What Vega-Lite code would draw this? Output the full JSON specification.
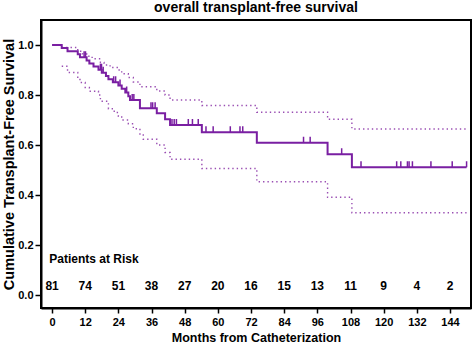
{
  "$schema": "https://vega.github.io/schema/vega-lite/v6.json",
  "width": 430,
  "height": 288,
  "autosize": "none",
  "padding": {"left": 41, "top": 20, "right": 3, "bottom": 37},
  "background": "white",
  "config": {
    "view": {"stroke": "black", "strokeWidth": 2},
    "font": "Liberation Sans",
    "axisY": {
      "values": [0, 0.2, 0.4, 0.6, 0.8, 1.0], "format": ".1f",
      "labelOverlap": false,
      "grid": false, "domainColor": "black", "domainWidth": 2, "tickColor": "black", "tickWidth": 1.5, "tickSize": 6,
      "labelFont": "Liberation Sans", "labelFontWeight": "bold", "labelFontSize": 11, "labelColor": "black", "labelPadding": 2,
      "titleFont": "Liberation Sans", "titleFontWeight": "bold", "titleFontSize": 14.5, "titleColor": "black", "titlePadding": 1
    }
  },
  "title": {
    "text": "overall transplant-free survival",
    "fontSize": 14,
    "fontWeight": "bold",
    "font": "Liberation Sans",
    "color": "black",
    "anchor": "middle",
    "offset": 5
  },
  "datasets": {
    "km": [
      {"t": 0, "s": 1.0}, {"t": 3.5, "s": 0.988}, {"t": 5.6, "s": 0.975}, {"t": 9.3, "s": 0.963},
      {"t": 10.1, "s": 0.951}, {"t": 12.5, "s": 0.938}, {"t": 13.5, "s": 0.926}, {"t": 15.0, "s": 0.914},
      {"t": 16.8, "s": 0.901}, {"t": 18.0, "s": 0.889}, {"t": 19.5, "s": 0.876}, {"t": 20.4, "s": 0.863},
      {"t": 22.0, "s": 0.851}, {"t": 24.0, "s": 0.838}, {"t": 25.2, "s": 0.825}, {"t": 26.5, "s": 0.81},
      {"t": 27.6, "s": 0.795}, {"t": 28.2, "s": 0.78}, {"t": 31.8, "s": 0.747}, {"t": 37.9, "s": 0.727},
      {"t": 40.9, "s": 0.703}, {"t": 42.7, "s": 0.68}, {"t": 54.2, "s": 0.651}, {"t": 74.1, "s": 0.609},
      {"t": 99.7, "s": 0.563}, {"t": 108.5, "s": 0.511}, {"t": 150, "s": 0.511}
    ],
    "upper": [
      {"t": 3.5, "s": 0.99}, {"t": 9.3, "s": 0.975}, {"t": 10.9, "s": 0.965}, {"t": 12.5, "s": 0.955},
      {"t": 14.5, "s": 0.945}, {"t": 17.5, "s": 0.93}, {"t": 18.8, "s": 0.92}, {"t": 21, "s": 0.91},
      {"t": 24, "s": 0.9}, {"t": 25.2, "s": 0.885}, {"t": 27.6, "s": 0.87}, {"t": 29.4, "s": 0.852},
      {"t": 31.8, "s": 0.833}, {"t": 37.9, "s": 0.816}, {"t": 40.9, "s": 0.8}, {"t": 42.7, "s": 0.78},
      {"t": 54.2, "s": 0.758}, {"t": 74.1, "s": 0.731}, {"t": 99.7, "s": 0.703}, {"t": 108.5, "s": 0.664},
      {"t": 150, "s": 0.664}
    ],
    "lower": [
      {"t": 3.5, "s": 0.915}, {"t": 5.6, "s": 0.89}, {"t": 9.3, "s": 0.865}, {"t": 10.1, "s": 0.85},
      {"t": 12.0, "s": 0.83}, {"t": 13.5, "s": 0.815}, {"t": 16.8, "s": 0.8}, {"t": 17.5, "s": 0.775},
      {"t": 20.4, "s": 0.745}, {"t": 22.5, "s": 0.73}, {"t": 24.0, "s": 0.715}, {"t": 25.2, "s": 0.7},
      {"t": 27.6, "s": 0.685}, {"t": 29.4, "s": 0.665}, {"t": 31.8, "s": 0.64}, {"t": 33.0, "s": 0.623},
      {"t": 37.9, "s": 0.6}, {"t": 40.9, "s": 0.57}, {"t": 42.7, "s": 0.543}, {"t": 54.2, "s": 0.506},
      {"t": 74.1, "s": 0.453}, {"t": 99.7, "s": 0.391}, {"t": 108.5, "s": 0.329}, {"t": 150, "s": 0.329}
    ],
    "cens": [
      {"t": 11.6, "s": 0.951}, {"t": 12.1, "s": 0.951}, {"t": 17.5, "s": 0.901}, {"t": 17.9, "s": 0.901},
      {"t": 18.5, "s": 0.889}, {"t": 22.3, "s": 0.851}, {"t": 23.0, "s": 0.851}, {"t": 24.6, "s": 0.838},
      {"t": 27.0, "s": 0.81}, {"t": 29.0, "s": 0.78}, {"t": 29.6, "s": 0.78}, {"t": 35.8, "s": 0.747},
      {"t": 36.4, "s": 0.747}, {"t": 37.3, "s": 0.747}, {"t": 43.4, "s": 0.68}, {"t": 44.2, "s": 0.68},
      {"t": 45.0, "s": 0.68}, {"t": 49.3, "s": 0.68}, {"t": 50.8, "s": 0.68}, {"t": 52.9, "s": 0.68},
      {"t": 55.7, "s": 0.651}, {"t": 58.3, "s": 0.651}, {"t": 64.5, "s": 0.651}, {"t": 68.0, "s": 0.651},
      {"t": 69.0, "s": 0.651}, {"t": 91.0, "s": 0.609}, {"t": 93.4, "s": 0.609}, {"t": 104.8, "s": 0.563},
      {"t": 111.8, "s": 0.511}, {"t": 124.7, "s": 0.511}, {"t": 126.2, "s": 0.511}, {"t": 128.6, "s": 0.511},
      {"t": 129.2, "s": 0.511}, {"t": 130.4, "s": 0.511}, {"t": 137.1, "s": 0.511}, {"t": 144.8, "s": 0.511},
      {"t": 150, "s": 0.511}
    ],
    "risk": [
      {"t": 0, "n": "81"}, {"t": 12, "n": "74"}, {"t": 24, "n": "51"}, {"t": 36, "n": "38"},
      {"t": 48, "n": "27"}, {"t": 60, "n": "20"}, {"t": 72, "n": "16"}, {"t": 84, "n": "15"},
      {"t": 96, "n": "13"}, {"t": 108, "n": "11"}, {"t": 120, "n": "9"}, {"t": 132, "n": "4"},
      {"t": 144, "n": "2"}
    ],
    "risklabel": [{"t": -1, "label": "Patients at Risk"}]
  },
  "encoding": {
    "x": {
      "field": "t", "type": "quantitative",
      "scale": {"domain": [-4, 151.6], "nice": false, "zero": false},
      "axis": {
        "title": "Months from Catheterization",
        "values": [0, 12, 24, 36, 48, 60, 72, 84, 96, 108, 120, 132, 144],
        "labelOverlap": false, "labelBound": false,
        "grid": false, "domainColor": "black", "domainWidth": 2, "tickColor": "black", "tickWidth": 1.5, "tickSize": 5,
        "labelFont": "Liberation Sans", "labelFontWeight": "bold", "labelFontSize": 11, "labelColor": "black", "labelPadding": 3,
        "titleFont": "Liberation Sans", "titleFontWeight": "bold", "titleFontSize": 12.5, "titleColor": "black", "titlePadding": 4
      }
    }
  },
  "layer": [
    {
      "data": {"name": "upper"},
      "mark": {"type": "line", "interpolate": "step-after", "color": "#9a4fb3", "strokeWidth": 1.4, "strokeDash": [1.4, 3]},
      "encoding": {
        "y": {"field": "s", "type": "quantitative", "scale": {"domain": [-0.052, 1.1], "nice": false, "zero": false}, "title": "Cumulative Transplant-Free Survival"}
      }
    },
    {
      "data": {"name": "lower"},
      "mark": {"type": "line", "interpolate": "step-after", "color": "#9a4fb3", "strokeWidth": 1.4, "strokeDash": [1.4, 3]},
      "encoding": {
        "y": {"field": "s", "type": "quantitative", "scale": {"domain": [-0.052, 1.1], "nice": false, "zero": false}, "title": "Cumulative Transplant-Free Survival"}
      }
    },
    {
      "data": {"name": "km"},
      "mark": {"type": "line", "interpolate": "step-after", "color": "#7a1fa2", "strokeWidth": 2},
      "encoding": {
        "y": {"field": "s", "type": "quantitative", "scale": {"domain": [-0.052, 1.1], "nice": false, "zero": false}, "title": "Cumulative Transplant-Free Survival"}
      }
    },
    {
      "data": {"name": "cens"},
      "mark": {"type": "point", "shape": "M0,0V-2", "size": 36, "filled": false, "color": "#7a1fa2", "strokeWidth": 1.5, "opacity": 1},
      "encoding": {
        "y": {"field": "s", "type": "quantitative", "scale": {"domain": [-0.052, 1.1], "nice": false, "zero": false}, "title": "Cumulative Transplant-Free Survival"}
      }
    },
    {
      "data": {"name": "risk"},
      "mark": {"type": "text", "font": "Liberation Sans", "fontWeight": "bold", "fontSize": 12, "color": "black", "align": "center", "baseline": "middle"},
      "encoding": {
        "y": {"datum": 0.036, "type": "quantitative", "scale": {"domain": [-0.052, 1.1], "nice": false, "zero": false}, "title": "Cumulative Transplant-Free Survival"},
        "text": {"field": "n"}
      }
    },
    {
      "data": {"name": "risklabel"},
      "mark": {"type": "text", "font": "Liberation Sans", "fontWeight": "bold", "fontSize": 12, "color": "black", "align": "left", "baseline": "middle"},
      "encoding": {
        "y": {"datum": 0.144, "type": "quantitative", "scale": {"domain": [-0.052, 1.1], "nice": false, "zero": false}, "title": "Cumulative Transplant-Free Survival"},
        "text": {"field": "label"}
      }
    }
  ]
}
